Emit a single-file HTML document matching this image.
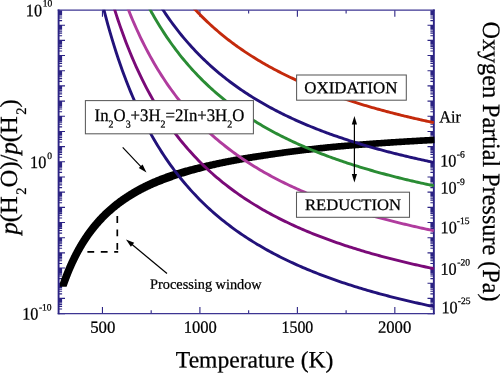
<!DOCTYPE html><html><head><meta charset="utf-8"><title>plot</title><style>html,body{margin:0;padding:0;background:#fff;width:500px;height:373px;overflow:hidden}svg{display:block}</style></head><body><svg width="500" height="373" viewBox="0 0 500 373"><defs><clipPath id="pc"><rect x="58.50" y="9.70" width="376.10" height="303.80"/></clipPath><clipPath id="bc"><rect x="60.00" y="10.20" width="374.60" height="276.50"/></clipPath></defs><rect width="500" height="373" fill="#fff"/><path d="M58.50,313.60L65.00,313.60 M434.00,313.60L427.50,313.60 M58.50,309.03L62.10,309.03 M434.00,309.03L430.40,309.03 M58.50,306.36L62.10,306.36 M434.00,306.36L430.40,306.36 M58.50,304.46L62.10,304.46 M434.00,304.46L430.40,304.46 M58.50,302.99L62.10,302.99 M434.00,302.99L430.40,302.99 M58.50,301.79L62.10,301.79 M434.00,301.79L430.40,301.79 M58.50,300.77L62.10,300.77 M434.00,300.77L430.40,300.77 M58.50,299.89L62.10,299.89 M434.00,299.89L430.40,299.89 M58.50,299.11L62.10,299.11 M434.00,299.11L430.40,299.11 M58.50,298.42L65.00,298.42 M434.00,298.42L427.50,298.42 M58.50,293.85L62.10,293.85 M434.00,293.85L430.40,293.85 M58.50,291.18L62.10,291.18 M434.00,291.18L430.40,291.18 M58.50,289.28L62.10,289.28 M434.00,289.28L430.40,289.28 M58.50,287.81L62.10,287.81 M434.00,287.81L430.40,287.81 M58.50,286.61L62.10,286.61 M434.00,286.61L430.40,286.61 M58.50,285.59L62.10,285.59 M434.00,285.59L430.40,285.59 M58.50,284.71L62.10,284.71 M434.00,284.71L430.40,284.71 M58.50,283.93L62.10,283.93 M434.00,283.93L430.40,283.93 M58.50,283.24L65.00,283.24 M434.00,283.24L427.50,283.24 M58.50,278.67L62.10,278.67 M434.00,278.67L430.40,278.67 M58.50,276.00L62.10,276.00 M434.00,276.00L430.40,276.00 M58.50,274.10L62.10,274.10 M434.00,274.10L430.40,274.10 M58.50,272.63L62.10,272.63 M434.00,272.63L430.40,272.63 M58.50,271.43L62.10,271.43 M434.00,271.43L430.40,271.43 M58.50,270.41L62.10,270.41 M434.00,270.41L430.40,270.41 M58.50,269.53L62.10,269.53 M434.00,269.53L430.40,269.53 M58.50,268.75L62.10,268.75 M434.00,268.75L430.40,268.75 M58.50,268.06L65.00,268.06 M434.00,268.06L427.50,268.06 M58.50,263.49L62.10,263.49 M434.00,263.49L430.40,263.49 M58.50,260.82L62.10,260.82 M434.00,260.82L430.40,260.82 M58.50,258.92L62.10,258.92 M434.00,258.92L430.40,258.92 M58.50,257.45L62.10,257.45 M434.00,257.45L430.40,257.45 M58.50,256.25L62.10,256.25 M434.00,256.25L430.40,256.25 M58.50,255.23L62.10,255.23 M434.00,255.23L430.40,255.23 M58.50,254.35L62.10,254.35 M434.00,254.35L430.40,254.35 M58.50,253.57L62.10,253.57 M434.00,253.57L430.40,253.57 M58.50,252.88L65.00,252.88 M434.00,252.88L427.50,252.88 M58.50,248.31L62.10,248.31 M434.00,248.31L430.40,248.31 M58.50,245.64L62.10,245.64 M434.00,245.64L430.40,245.64 M58.50,243.74L62.10,243.74 M434.00,243.74L430.40,243.74 M58.50,242.27L62.10,242.27 M434.00,242.27L430.40,242.27 M58.50,241.07L62.10,241.07 M434.00,241.07L430.40,241.07 M58.50,240.05L62.10,240.05 M434.00,240.05L430.40,240.05 M58.50,239.17L62.10,239.17 M434.00,239.17L430.40,239.17 M58.50,238.39L62.10,238.39 M434.00,238.39L430.40,238.39 M58.50,237.70L65.00,237.70 M434.00,237.70L427.50,237.70 M58.50,233.13L62.10,233.13 M434.00,233.13L430.40,233.13 M58.50,230.46L62.10,230.46 M434.00,230.46L430.40,230.46 M58.50,228.56L62.10,228.56 M434.00,228.56L430.40,228.56 M58.50,227.09L62.10,227.09 M434.00,227.09L430.40,227.09 M58.50,225.89L62.10,225.89 M434.00,225.89L430.40,225.89 M58.50,224.87L62.10,224.87 M434.00,224.87L430.40,224.87 M58.50,223.99L62.10,223.99 M434.00,223.99L430.40,223.99 M58.50,223.21L62.10,223.21 M434.00,223.21L430.40,223.21 M58.50,222.52L65.00,222.52 M434.00,222.52L427.50,222.52 M58.50,217.95L62.10,217.95 M434.00,217.95L430.40,217.95 M58.50,215.28L62.10,215.28 M434.00,215.28L430.40,215.28 M58.50,213.38L62.10,213.38 M434.00,213.38L430.40,213.38 M58.50,211.91L62.10,211.91 M434.00,211.91L430.40,211.91 M58.50,210.71L62.10,210.71 M434.00,210.71L430.40,210.71 M58.50,209.69L62.10,209.69 M434.00,209.69L430.40,209.69 M58.50,208.81L62.10,208.81 M434.00,208.81L430.40,208.81 M58.50,208.03L62.10,208.03 M434.00,208.03L430.40,208.03 M58.50,207.34L65.00,207.34 M434.00,207.34L427.50,207.34 M58.50,202.77L62.10,202.77 M434.00,202.77L430.40,202.77 M58.50,200.10L62.10,200.10 M434.00,200.10L430.40,200.10 M58.50,198.20L62.10,198.20 M434.00,198.20L430.40,198.20 M58.50,196.73L62.10,196.73 M434.00,196.73L430.40,196.73 M58.50,195.53L62.10,195.53 M434.00,195.53L430.40,195.53 M58.50,194.51L62.10,194.51 M434.00,194.51L430.40,194.51 M58.50,193.63L62.10,193.63 M434.00,193.63L430.40,193.63 M58.50,192.85L62.10,192.85 M434.00,192.85L430.40,192.85 M58.50,192.16L65.00,192.16 M434.00,192.16L427.50,192.16 M58.50,187.59L62.10,187.59 M434.00,187.59L430.40,187.59 M58.50,184.92L62.10,184.92 M434.00,184.92L430.40,184.92 M58.50,183.02L62.10,183.02 M434.00,183.02L430.40,183.02 M58.50,181.55L62.10,181.55 M434.00,181.55L430.40,181.55 M58.50,180.35L62.10,180.35 M434.00,180.35L430.40,180.35 M58.50,179.33L62.10,179.33 M434.00,179.33L430.40,179.33 M58.50,178.45L62.10,178.45 M434.00,178.45L430.40,178.45 M58.50,177.67L62.10,177.67 M434.00,177.67L430.40,177.67 M58.50,176.98L65.00,176.98 M434.00,176.98L427.50,176.98 M58.50,172.41L62.10,172.41 M434.00,172.41L430.40,172.41 M58.50,169.74L62.10,169.74 M434.00,169.74L430.40,169.74 M58.50,167.84L62.10,167.84 M434.00,167.84L430.40,167.84 M58.50,166.37L62.10,166.37 M434.00,166.37L430.40,166.37 M58.50,165.17L62.10,165.17 M434.00,165.17L430.40,165.17 M58.50,164.15L62.10,164.15 M434.00,164.15L430.40,164.15 M58.50,163.27L62.10,163.27 M434.00,163.27L430.40,163.27 M58.50,162.49L62.10,162.49 M434.00,162.49L430.40,162.49 M58.50,161.80L65.00,161.80 M434.00,161.80L427.50,161.80 M58.50,157.23L62.10,157.23 M434.00,157.23L430.40,157.23 M58.50,154.56L62.10,154.56 M434.00,154.56L430.40,154.56 M58.50,152.66L62.10,152.66 M434.00,152.66L430.40,152.66 M58.50,151.19L62.10,151.19 M434.00,151.19L430.40,151.19 M58.50,149.99L62.10,149.99 M434.00,149.99L430.40,149.99 M58.50,148.97L62.10,148.97 M434.00,148.97L430.40,148.97 M58.50,148.09L62.10,148.09 M434.00,148.09L430.40,148.09 M58.50,147.31L62.10,147.31 M434.00,147.31L430.40,147.31 M58.50,146.62L65.00,146.62 M434.00,146.62L427.50,146.62 M58.50,142.05L62.10,142.05 M434.00,142.05L430.40,142.05 M58.50,139.38L62.10,139.38 M434.00,139.38L430.40,139.38 M58.50,137.48L62.10,137.48 M434.00,137.48L430.40,137.48 M58.50,136.01L62.10,136.01 M434.00,136.01L430.40,136.01 M58.50,134.81L62.10,134.81 M434.00,134.81L430.40,134.81 M58.50,133.79L62.10,133.79 M434.00,133.79L430.40,133.79 M58.50,132.91L62.10,132.91 M434.00,132.91L430.40,132.91 M58.50,132.13L62.10,132.13 M434.00,132.13L430.40,132.13 M58.50,131.44L65.00,131.44 M434.00,131.44L427.50,131.44 M58.50,126.87L62.10,126.87 M434.00,126.87L430.40,126.87 M58.50,124.20L62.10,124.20 M434.00,124.20L430.40,124.20 M58.50,122.30L62.10,122.30 M434.00,122.30L430.40,122.30 M58.50,120.83L62.10,120.83 M434.00,120.83L430.40,120.83 M58.50,119.63L62.10,119.63 M434.00,119.63L430.40,119.63 M58.50,118.61L62.10,118.61 M434.00,118.61L430.40,118.61 M58.50,117.73L62.10,117.73 M434.00,117.73L430.40,117.73 M58.50,116.95L62.10,116.95 M434.00,116.95L430.40,116.95 M58.50,116.26L65.00,116.26 M434.00,116.26L427.50,116.26 M58.50,111.69L62.10,111.69 M434.00,111.69L430.40,111.69 M58.50,109.02L62.10,109.02 M434.00,109.02L430.40,109.02 M58.50,107.12L62.10,107.12 M434.00,107.12L430.40,107.12 M58.50,105.65L62.10,105.65 M434.00,105.65L430.40,105.65 M58.50,104.45L62.10,104.45 M434.00,104.45L430.40,104.45 M58.50,103.43L62.10,103.43 M434.00,103.43L430.40,103.43 M58.50,102.55L62.10,102.55 M434.00,102.55L430.40,102.55 M58.50,101.77L62.10,101.77 M434.00,101.77L430.40,101.77 M58.50,101.08L65.00,101.08 M434.00,101.08L427.50,101.08 M58.50,96.51L62.10,96.51 M434.00,96.51L430.40,96.51 M58.50,93.84L62.10,93.84 M434.00,93.84L430.40,93.84 M58.50,91.94L62.10,91.94 M434.00,91.94L430.40,91.94 M58.50,90.47L62.10,90.47 M434.00,90.47L430.40,90.47 M58.50,89.27L62.10,89.27 M434.00,89.27L430.40,89.27 M58.50,88.25L62.10,88.25 M434.00,88.25L430.40,88.25 M58.50,87.37L62.10,87.37 M434.00,87.37L430.40,87.37 M58.50,86.59L62.10,86.59 M434.00,86.59L430.40,86.59 M58.50,85.90L65.00,85.90 M434.00,85.90L427.50,85.90 M58.50,81.33L62.10,81.33 M434.00,81.33L430.40,81.33 M58.50,78.66L62.10,78.66 M434.00,78.66L430.40,78.66 M58.50,76.76L62.10,76.76 M434.00,76.76L430.40,76.76 M58.50,75.29L62.10,75.29 M434.00,75.29L430.40,75.29 M58.50,74.09L62.10,74.09 M434.00,74.09L430.40,74.09 M58.50,73.07L62.10,73.07 M434.00,73.07L430.40,73.07 M58.50,72.19L62.10,72.19 M434.00,72.19L430.40,72.19 M58.50,71.41L62.10,71.41 M434.00,71.41L430.40,71.41 M58.50,70.72L65.00,70.72 M434.00,70.72L427.50,70.72 M58.50,66.15L62.10,66.15 M434.00,66.15L430.40,66.15 M58.50,63.48L62.10,63.48 M434.00,63.48L430.40,63.48 M58.50,61.58L62.10,61.58 M434.00,61.58L430.40,61.58 M58.50,60.11L62.10,60.11 M434.00,60.11L430.40,60.11 M58.50,58.91L62.10,58.91 M434.00,58.91L430.40,58.91 M58.50,57.89L62.10,57.89 M434.00,57.89L430.40,57.89 M58.50,57.01L62.10,57.01 M434.00,57.01L430.40,57.01 M58.50,56.23L62.10,56.23 M434.00,56.23L430.40,56.23 M58.50,55.54L65.00,55.54 M434.00,55.54L427.50,55.54 M58.50,50.97L62.10,50.97 M434.00,50.97L430.40,50.97 M58.50,48.30L62.10,48.30 M434.00,48.30L430.40,48.30 M58.50,46.40L62.10,46.40 M434.00,46.40L430.40,46.40 M58.50,44.93L62.10,44.93 M434.00,44.93L430.40,44.93 M58.50,43.73L62.10,43.73 M434.00,43.73L430.40,43.73 M58.50,42.71L62.10,42.71 M434.00,42.71L430.40,42.71 M58.50,41.83L62.10,41.83 M434.00,41.83L430.40,41.83 M58.50,41.05L62.10,41.05 M434.00,41.05L430.40,41.05 M58.50,40.36L65.00,40.36 M434.00,40.36L427.50,40.36 M58.50,35.79L62.10,35.79 M434.00,35.79L430.40,35.79 M58.50,33.12L62.10,33.12 M434.00,33.12L430.40,33.12 M58.50,31.22L62.10,31.22 M434.00,31.22L430.40,31.22 M58.50,29.75L62.10,29.75 M434.00,29.75L430.40,29.75 M58.50,28.55L62.10,28.55 M434.00,28.55L430.40,28.55 M58.50,27.53L62.10,27.53 M434.00,27.53L430.40,27.53 M58.50,26.65L62.10,26.65 M434.00,26.65L430.40,26.65 M58.50,25.87L62.10,25.87 M434.00,25.87L430.40,25.87 M58.50,25.18L65.00,25.18 M434.00,25.18L427.50,25.18 M58.50,20.61L62.10,20.61 M434.00,20.61L430.40,20.61 M58.50,17.94L62.10,17.94 M434.00,17.94L430.40,17.94 M58.50,16.04L62.10,16.04 M434.00,16.04L430.40,16.04 M58.50,14.57L62.10,14.57 M434.00,14.57L430.40,14.57 M58.50,13.37L62.10,13.37 M434.00,13.37L430.40,13.37 M58.50,12.35L62.10,12.35 M434.00,12.35L430.40,12.35 M58.50,11.47L62.10,11.47 M434.00,11.47L430.40,11.47 M58.50,10.69L62.10,10.69 M434.00,10.69L430.40,10.69 M102.45,313.50L102.45,307.00 M102.45,10.20L102.45,16.70 M151.18,313.50L151.18,310.30 M151.18,10.20L151.18,13.40 M199.91,313.50L199.91,307.00 M199.91,10.20L199.91,16.70 M248.65,313.50L248.65,310.30 M248.65,10.20L248.65,13.40 M297.38,313.50L297.38,307.00 M297.38,10.20L297.38,16.70 M346.11,313.50L346.11,310.30 M346.11,10.20L346.11,13.40 M394.84,313.50L394.84,307.00 M394.84,10.20L394.84,16.70" stroke="#2c2484" stroke-width="1.1" fill="none"/><path d="M57.70,10.20 H434.75 M57.70,313.50 H434.75" stroke="#3d3592" stroke-width="1.25" fill="none"/><path d="M58.60,9.45 V314.25 M433.85,9.45 V314.25" stroke="#2c2484" stroke-width="1.9" fill="none"/><g clip-path="url(#bc)" fill="none" stroke-linejoin="round"><path d="M58.29,287.54 L58.31,287.49 L58.35,287.38 L58.40,287.23 L58.46,287.04 L58.53,286.83 L58.61,286.59 L58.70,286.32 L58.79,286.03 L58.90,285.72 L59.01,285.39 L59.13,285.04 L59.25,284.67 L59.39,284.29 L59.52,283.89 L59.67,283.47 L59.82,283.04 L59.97,282.59 L60.13,282.13 L60.30,281.66 L60.47,281.18 L60.65,280.68 L60.83,280.17 L61.02,279.65 L61.21,279.12 L61.41,278.59 L61.61,278.04 L61.82,277.48 L62.03,276.91 L62.25,276.34 L62.47,275.75 L62.69,275.16 L62.92,274.57 L63.16,273.96 L63.40,273.35 L63.64,272.73 L63.89,272.11 L64.14,271.48 L64.39,270.85 L64.65,270.21 L64.91,269.56 L65.18,268.91 L65.45,268.26 L65.73,267.60 L66.01,266.94 L66.29,266.28 L66.58,265.61 L66.87,264.94 L67.16,264.27 L67.46,263.60 L67.76,262.92 L68.07,262.24 L68.38,261.56 L68.69,260.87 L69.01,260.19 L69.33,259.50 L69.65,258.82 L69.98,258.13 L70.31,257.44 L70.65,256.75 L70.99,256.06 L71.33,255.37 L71.67,254.68 L72.02,253.99 L72.37,253.29 L72.73,252.60 L73.09,251.91 L73.45,251.22 L73.81,250.53 L74.18,249.84 L74.55,249.16 L74.93,248.47 L75.31,247.78 L75.69,247.10 L76.07,246.41 L76.46,245.73 L76.85,245.05 L77.24,244.37 L77.64,243.69 L78.04,243.01 L78.45,242.34 L78.85,241.66 L79.26,240.99 L79.68,240.32 L80.09,239.66 L80.51,238.99 L80.93,238.33 L81.36,237.67 L81.79,237.01 L82.22,236.35 L82.65,235.70 L83.09,235.04 L83.53,234.40 L83.97,233.75 L84.42,233.10 L84.87,232.46 L85.32,231.82 L85.77,231.19 L86.23,230.55 L86.69,229.92 L87.16,229.29 L87.62,228.67 L88.09,228.05 L88.56,227.43 L89.04,226.81 L89.52,226.20 L90.00,225.59 L90.48,224.98 L90.96,224.37 L91.45,223.77 L91.94,223.17 L92.44,222.58 L92.94,221.98 L93.44,221.40 L93.94,220.81 L94.44,220.23 L94.95,219.64 L95.46,219.07 L95.97,218.49 L96.49,217.92 L97.01,217.36 L97.53,216.79 L98.05,216.23 L98.58,215.67 L99.11,215.12 L99.64,214.56 L100.17,214.02 L100.71,213.47 L101.25,212.93 L101.79,212.39 L102.33,211.85 L102.88,211.32 L103.43,210.79 L103.98,210.26 L104.54,209.74 L105.09,209.22 L105.65,208.71 L106.21,208.19 L106.78,207.68 L107.34,207.17 L107.91,206.67 L108.48,206.17 L109.06,205.67 L109.63,205.18 L110.21,204.68 L110.79,204.20 L111.38,203.71 L111.96,203.23 L112.55,202.75 L113.14,202.27 L113.74,201.80 L114.33,201.33 L114.93,200.86 L115.53,200.40 L116.13,199.94 L116.74,199.48 L117.34,199.03 L117.95,198.57 L118.56,198.12 L119.18,197.68 L119.79,197.23 L120.41,196.79 L121.03,196.36 L121.65,195.92 L122.28,195.49 L122.91,195.06 L123.54,194.64 L124.17,194.21 L124.80,193.79 L125.44,193.38 L126.07,192.96 L126.71,192.55 L127.36,192.14 L128.00,191.73 L128.65,191.33 L129.30,190.93 L129.95,190.53 L130.60,190.13 L131.26,189.74 L131.91,189.35 L132.57,188.96 L133.24,188.58 L133.90,188.19 L134.57,187.81 L135.23,187.44 L135.90,187.06 L136.58,186.69 L137.25,186.32 L137.93,185.95 L138.60,185.59 L139.28,185.22 L139.97,184.86 L140.65,184.51 L141.34,184.15 L142.03,183.80 L142.72,183.45 L143.41,183.10 L144.10,182.75 L144.80,182.41 L145.50,182.07 L146.20,181.73 L146.90,181.39 L147.61,181.06 L148.33,180.72 L149.06,180.39 L149.77,180.07 L150.48,179.75 L151.20,179.44 L151.91,179.12 L152.63,178.81 L153.35,178.51 L154.07,178.20 L154.80,177.90 L155.52,177.59 L156.25,177.29 L156.98,177.00 L157.72,176.70 L158.45,176.41 L159.19,176.11 L159.92,175.82 L160.66,175.54 L161.40,175.25 L162.15,174.97 L162.89,174.69 L163.64,174.41 L164.39,174.14 L165.15,173.87 L165.91,173.61 L166.67,173.35 L167.43,173.09 L168.19,172.83 L168.95,172.58 L169.72,172.32 L170.49,172.07 L171.26,171.82 L172.03,171.57 L172.80,171.33 L173.58,171.08 L174.35,170.84 L175.13,170.60 L175.91,170.36 L176.69,170.12 L177.48,169.89 L178.26,169.65 L179.05,169.42 L179.84,169.19 L180.63,168.96 L181.43,168.74 L182.22,168.51 L183.02,168.29 L183.82,168.06 L184.62,167.84 L185.42,167.62 L186.22,167.41 L187.03,167.19 L187.83,166.98 L188.64,166.76 L189.45,166.55 L190.27,166.34 L191.08,166.13 L191.90,165.93 L192.71,165.72 L193.53,165.52 L194.35,165.32 L195.18,165.12 L196.00,164.92 L196.83,164.72 L197.66,164.52 L198.48,164.33 L199.29,164.14 L200.11,163.94 L200.94,163.74 L201.78,163.54 L202.62,163.34 L203.46,163.14 L204.30,162.95 L205.15,162.75 L205.99,162.56 L206.84,162.37 L207.69,162.18 L208.54,161.99 L209.39,161.80 L210.24,161.61 L211.10,161.42 L211.95,161.22 L212.81,161.03 L213.67,160.85 L214.53,160.66 L215.40,160.47 L216.26,160.29 L217.13,160.11 L217.99,159.92 L218.86,159.74 L219.74,159.56 L220.61,159.38 L221.48,159.20 L222.36,159.03 L223.24,158.85 L224.12,158.68 L225.00,158.50 L225.88,158.33 L226.77,158.16 L227.66,157.99 L228.55,157.82 L229.44,157.65 L230.33,157.48 L231.22,157.32 L232.12,157.15 L233.01,156.99 L233.91,156.82 L234.81,156.66 L235.71,156.50 L236.62,156.34 L237.52,156.18 L238.43,156.02 L239.34,155.86 L240.25,155.71 L241.16,155.55 L242.08,155.40 L242.99,155.24 L243.91,155.09 L244.83,154.94 L245.75,154.79 L246.67,154.64 L247.59,154.49 L248.52,154.34 L249.45,154.19 L250.38,154.05 L251.31,153.90 L252.24,153.76 L253.17,153.61 L254.11,153.47 L255.04,153.33 L255.98,153.19 L256.92,153.05 L257.86,152.91 L258.81,152.77 L259.75,152.63 L260.70,152.49 L261.65,152.36 L262.60,152.22 L263.55,152.09 L264.49,151.95 L265.43,151.81 L266.39,151.67 L267.34,151.53 L268.30,151.39 L269.26,151.25 L270.23,151.11 L271.19,150.98 L272.16,150.84 L273.13,150.70 L274.10,150.57 L275.07,150.43 L276.04,150.30 L277.02,150.17 L277.99,150.03 L278.97,149.90 L279.95,149.77 L280.93,149.63 L281.91,149.50 L282.89,149.37 L283.88,149.23 L284.87,149.10 L285.85,148.97 L286.84,148.84 L287.84,148.71 L288.83,148.58 L289.82,148.45 L290.82,148.32 L291.82,148.20 L292.82,148.07 L293.82,147.94 L294.82,147.82 L295.83,147.69 L296.83,147.57 L297.84,147.44 L298.85,147.32 L299.86,147.20 L300.87,147.08 L301.89,146.96 L302.90,146.83 L303.92,146.71 L304.94,146.59 L305.96,146.48 L306.98,146.36 L308.00,146.24 L309.03,146.12 L310.05,146.00 L311.08,145.89 L312.11,145.77 L313.14,145.66 L314.17,145.54 L315.21,145.43 L316.24,145.31 L317.28,145.20 L318.32,145.09 L319.36,144.98 L320.40,144.86 L321.45,144.75 L322.49,144.64 L323.54,144.53 L324.59,144.42 L325.64,144.31 L326.69,144.20 L327.74,144.10 L328.80,143.99 L329.87,143.88 L330.94,143.78 L332.00,143.69 L333.06,143.59 L334.12,143.49 L335.18,143.40 L336.25,143.30 L337.31,143.21 L338.38,143.12 L339.45,143.02 L340.52,142.93 L341.60,142.84 L342.67,142.75 L343.75,142.66 L344.82,142.56 L345.90,142.47 L346.98,142.38 L348.07,142.29 L349.15,142.21 L350.23,142.12 L351.32,142.03 L352.41,141.94 L353.50,141.85 L354.59,141.77 L355.68,141.68 L356.77,141.59 L357.87,141.51 L358.97,141.42 L360.07,141.34 L361.17,141.25 L362.27,141.17 L363.37,141.09 L364.47,141.00 L365.58,140.92 L366.69,140.84 L367.80,140.75 L368.91,140.67 L370.02,140.59 L371.13,140.51 L372.25,140.43 L373.36,140.35 L374.48,140.27 L375.60,140.19 L376.72,140.11 L377.84,140.03 L378.97,139.95 L380.09,139.88 L381.22,139.80 L382.35,139.72 L383.48,139.65 L384.61,139.57 L385.74,139.49 L386.88,139.42 L388.01,139.34 L389.15,139.27 L390.29,139.19 L391.43,139.12 L392.57,139.04 L393.71,138.97 L394.86,138.90 L396.00,138.82 L397.15,138.75 L398.30,138.68 L399.45,138.61 L400.60,138.53 L401.75,138.46 L402.91,138.39 L404.07,138.32 L405.22,138.25 L406.38,138.18 L407.54,138.11 L408.70,138.04 L409.87,137.97 L411.03,137.90 L412.20,137.84 L413.37,137.77 L414.54,137.70 L415.71,137.63 L416.88,137.56 L418.05,137.50 L419.23,137.43 L420.40,137.37 L421.58,137.30 L422.76,137.23 L423.94,137.17 L425.12,137.10 L426.31,137.04 L427.49,136.97 L428.68,136.91 L429.87,136.84 L431.05,136.78 L432.25,136.72 L433.44,136.65 L434.63,136.59 L434.98,143.19 L433.79,143.25 L432.60,143.32 L431.41,143.38 L430.22,143.45 L429.04,143.51 L427.85,143.58 L426.67,143.64 L425.49,143.71 L424.31,143.77 L423.13,143.84 L421.95,143.91 L420.78,143.97 L419.60,144.04 L418.43,144.11 L417.26,144.17 L416.09,144.24 L414.92,144.31 L413.75,144.38 L412.59,144.45 L411.42,144.52 L410.26,144.58 L409.10,144.65 L407.94,144.72 L406.78,144.79 L405.63,144.87 L404.47,144.94 L403.32,145.01 L402.16,145.08 L401.01,145.15 L399.86,145.22 L398.72,145.30 L397.57,145.37 L396.43,145.44 L395.28,145.52 L394.14,145.59 L393.00,145.66 L391.86,145.74 L390.72,145.81 L389.59,145.89 L388.45,145.96 L387.32,146.04 L386.19,146.12 L385.06,146.19 L383.93,146.27 L382.80,146.35 L381.68,146.42 L380.55,146.50 L379.43,146.58 L378.31,146.66 L377.19,146.74 L376.07,146.82 L374.96,146.90 L373.84,146.98 L372.73,147.06 L371.62,147.14 L370.50,147.22 L369.40,147.30 L368.29,147.38 L367.18,147.47 L366.08,147.55 L364.97,147.63 L363.87,147.72 L362.77,147.80 L361.68,147.89 L360.58,147.97 L359.48,148.06 L358.39,148.14 L357.30,148.23 L356.21,148.31 L355.12,148.40 L354.03,148.49 L352.94,148.58 L351.86,148.66 L350.78,148.75 L349.69,148.84 L348.62,148.93 L347.54,149.02 L346.46,149.11 L345.38,149.20 L344.31,149.29 L343.24,149.39 L342.17,149.48 L341.10,149.57 L340.03,149.66 L338.97,149.76 L337.90,149.85 L336.84,149.95 L335.78,150.04 L334.72,150.14 L333.66,150.23 L332.60,150.33 L331.55,150.42 L330.51,150.52 L329.47,150.62 L328.42,150.73 L327.37,150.84 L326.33,150.95 L325.28,151.06 L324.24,151.17 L323.19,151.28 L322.15,151.39 L321.11,151.50 L320.08,151.61 L319.04,151.73 L318.01,151.84 L316.97,151.95 L315.94,152.07 L314.91,152.18 L313.88,152.30 L312.86,152.41 L311.83,152.53 L310.81,152.64 L309.79,152.76 L308.77,152.88 L307.75,153.00 L306.73,153.11 L305.72,153.23 L304.70,153.35 L303.69,153.47 L302.68,153.59 L301.67,153.72 L300.66,153.84 L299.66,153.96 L298.65,154.08 L297.65,154.21 L296.65,154.33 L295.65,154.46 L294.66,154.58 L293.66,154.71 L292.67,154.84 L291.67,154.96 L290.68,155.09 L289.69,155.22 L288.71,155.35 L287.72,155.48 L286.73,155.61 L285.75,155.74 L284.77,155.87 L283.79,156.00 L282.81,156.14 L281.84,156.27 L280.86,156.40 L279.89,156.54 L278.92,156.68 L277.95,156.82 L276.99,156.96 L276.02,157.10 L275.06,157.25 L274.09,157.39 L273.13,157.53 L272.17,157.68 L271.22,157.82 L270.26,157.97 L269.31,158.11 L268.36,158.26 L267.41,158.41 L266.46,158.56 L265.50,158.71 L264.54,158.85 L263.59,158.99 L262.65,159.14 L261.71,159.28 L260.77,159.42 L259.83,159.57 L258.90,159.71 L257.97,159.86 L257.04,160.01 L256.11,160.16 L255.18,160.30 L254.25,160.45 L253.33,160.60 L252.40,160.76 L251.48,160.91 L250.56,161.06 L249.65,161.21 L248.73,161.37 L247.82,161.53 L246.90,161.68 L245.99,161.84 L245.08,162.00 L244.18,162.16 L243.27,162.32 L242.37,162.48 L241.47,162.64 L240.57,162.80 L239.67,162.96 L238.77,163.13 L237.88,163.29 L236.98,163.46 L236.09,163.63 L235.20,163.79 L234.32,163.96 L233.43,164.13 L232.55,164.30 L231.66,164.48 L230.78,164.65 L229.91,164.82 L229.03,165.00 L228.15,165.17 L227.28,165.35 L226.41,165.53 L225.54,165.71 L224.67,165.89 L223.81,166.07 L222.94,166.25 L222.08,166.43 L221.22,166.62 L220.36,166.80 L219.50,166.99 L218.65,167.18 L217.80,167.36 L216.95,167.55 L216.10,167.74 L215.25,167.93 L214.40,168.13 L213.56,168.32 L212.72,168.52 L211.88,168.71 L211.04,168.91 L210.20,169.11 L209.37,169.32 L208.54,169.53 L207.71,169.73 L206.88,169.94 L206.06,170.16 L205.24,170.37 L204.41,170.58 L203.59,170.79 L202.78,171.01 L201.96,171.23 L201.13,171.45 L200.30,171.67 L199.48,171.88 L198.68,172.09 L197.87,172.30 L197.07,172.52 L196.26,172.73 L195.46,172.95 L194.67,173.17 L193.87,173.39 L193.08,173.61 L192.28,173.83 L191.49,174.06 L190.70,174.28 L189.92,174.51 L189.13,174.74 L188.35,174.97 L187.57,175.20 L186.79,175.43 L186.02,175.66 L185.24,175.90 L184.47,176.14 L183.70,176.38 L182.93,176.61 L182.17,176.86 L181.40,177.10 L180.64,177.34 L179.88,177.59 L179.12,177.84 L178.36,178.08 L177.61,178.34 L176.86,178.59 L176.11,178.84 L175.36,179.10 L174.61,179.35 L173.87,179.61 L173.13,179.87 L172.39,180.13 L171.65,180.40 L170.92,180.66 L170.18,180.93 L169.45,181.20 L168.72,181.47 L168.00,181.74 L167.27,182.01 L166.55,182.29 L165.82,182.55 L165.10,182.82 L164.38,183.09 L163.66,183.36 L162.95,183.63 L162.23,183.91 L161.52,184.19 L160.81,184.46 L160.10,184.75 L159.39,185.03 L158.69,185.31 L157.99,185.60 L157.29,185.89 L156.59,186.18 L155.89,186.47 L155.20,186.76 L154.51,187.06 L153.82,187.36 L153.13,187.66 L152.45,187.96 L151.78,188.26 L151.12,188.56 L150.44,188.88 L149.77,189.20 L149.09,189.52 L148.42,189.84 L147.75,190.17 L147.08,190.49 L146.41,190.82 L145.75,191.16 L145.09,191.49 L144.43,191.83 L143.77,192.16 L143.12,192.50 L142.46,192.85 L141.81,193.19 L141.16,193.54 L140.52,193.89 L139.87,194.24 L139.23,194.59 L138.59,194.95 L137.95,195.31 L137.32,195.67 L136.68,196.03 L136.05,196.40 L135.42,196.77 L134.80,197.14 L134.17,197.51 L133.55,197.89 L132.93,198.27 L132.31,198.65 L131.70,199.03 L131.08,199.41 L130.47,199.80 L129.86,200.19 L129.26,200.59 L128.65,200.98 L128.05,201.38 L127.45,201.78 L126.85,202.18 L126.26,202.59 L125.66,203.00 L125.07,203.41 L124.48,203.82 L123.90,204.24 L123.31,204.66 L122.73,205.08 L122.15,205.51 L121.57,205.94 L121.00,206.37 L120.42,206.80 L119.85,207.24 L119.29,207.67 L118.72,208.12 L118.16,208.56 L117.60,209.01 L117.04,209.46 L116.48,209.91 L115.93,210.37 L115.37,210.83 L114.82,211.29 L114.28,211.75 L113.73,212.22 L113.19,212.69 L112.65,213.16 L112.11,213.64 L111.57,214.12 L111.04,214.60 L110.51,215.09 L109.98,215.57 L109.45,216.06 L108.93,216.56 L108.41,217.06 L107.89,217.56 L107.37,218.06 L106.86,218.57 L106.35,219.07 L105.84,219.59 L105.33,220.10 L104.82,220.62 L104.32,221.14 L103.82,221.67 L103.32,222.20 L102.83,222.73 L102.33,223.26 L101.84,223.80 L101.36,224.34 L100.87,224.88 L100.39,225.43 L99.91,225.98 L99.43,226.53 L98.95,227.08 L98.48,227.64 L98.01,228.20 L97.54,228.77 L97.08,229.33 L96.61,229.91 L96.15,230.48 L95.69,231.06 L95.24,231.63 L94.79,232.22 L94.34,232.80 L93.89,233.39 L93.44,233.98 L93.00,234.58 L92.56,235.17 L92.12,235.77 L91.69,236.37 L91.26,236.98 L90.83,237.59 L90.40,238.20 L89.98,238.81 L89.56,239.43 L89.14,240.04 L88.72,240.66 L88.31,241.29 L87.90,241.91 L87.49,242.54 L87.08,243.17 L86.68,243.80 L86.28,244.44 L85.89,245.08 L85.49,245.71 L85.10,246.36 L84.71,247.00 L84.33,247.64 L83.95,248.29 L83.57,248.94 L83.19,249.59 L82.82,250.24 L82.45,250.89 L82.08,251.55 L81.71,252.20 L81.35,252.86 L80.99,253.52 L80.64,254.18 L80.28,254.84 L79.93,255.50 L79.59,256.16 L79.24,256.82 L78.90,257.49 L78.57,258.15 L78.23,258.81 L77.90,259.48 L77.58,260.14 L77.25,260.80 L76.93,261.46 L76.61,262.13 L76.30,262.79 L75.99,263.45 L75.68,264.11 L75.38,264.76 L75.08,265.42 L74.78,266.07 L74.48,266.73 L74.19,267.38 L73.91,268.03 L73.62,268.67 L73.34,269.32 L73.07,269.96 L72.80,270.60 L72.53,271.23 L72.26,271.86 L72.00,272.49 L71.75,273.11 L71.49,273.73 L71.24,274.34 L71.00,274.95 L70.76,275.55 L70.52,276.15 L70.29,276.74 L70.06,277.33 L69.83,277.91 L69.61,278.48 L69.40,279.05 L69.19,279.60 L68.98,280.15 L68.78,280.70 L68.58,281.23 L68.39,281.75 L68.20,282.27 L68.01,282.77 L67.83,283.26 L67.66,283.75 L67.49,284.22 L67.33,284.68 L67.17,285.12 L67.02,285.56 L66.87,285.98 L66.73,286.38 L66.59,286.77 L66.46,287.15 L66.34,287.50 L66.23,287.85 L66.12,288.17 L66.01,288.47 L65.92,288.75 L65.83,289.01 L65.75,289.24 L65.68,289.45 L65.62,289.63 L65.57,289.78 L65.54,289.89 L65.52,289.94Z" fill="#000" stroke="none"/></g><g clip-path="url(#pc)" fill="none" stroke-linejoin="round"><path d="M187.32,0.89 L188.86,2.67 L190.40,4.41 L191.94,6.13 L193.48,7.82 L195.02,9.48 L196.56,11.11 L198.10,12.72 L199.64,14.30 L201.18,15.86 L202.72,17.39 L204.26,18.90 L205.80,20.39 L207.34,21.85 L208.89,23.30 L210.43,24.72 L211.97,26.12 L213.51,27.49 L215.05,28.85 L216.59,30.19 L218.13,31.51 L219.67,32.81 L221.21,34.09 L222.75,35.36 L224.29,36.60 L225.83,37.83 L227.37,39.04 L228.91,40.24 L230.46,41.41 L232.00,42.58 L233.54,43.72 L235.08,44.85 L236.62,45.97 L238.16,47.07 L239.70,48.16 L241.24,49.23 L242.78,50.29 L244.32,51.34 L245.86,52.37 L247.40,53.39 L248.94,54.39 L250.48,55.39 L252.03,56.37 L253.57,57.34 L255.11,58.29 L256.65,59.24 L258.19,60.17 L259.73,61.10 L261.27,62.01 L262.81,62.91 L264.35,63.80 L265.89,64.68 L267.43,65.54 L268.97,66.40 L270.51,67.25 L272.05,68.09 L273.60,68.92 L275.14,69.74 L276.68,70.55 L278.22,71.35 L279.76,72.15 L281.30,72.93 L282.84,73.70 L284.38,74.47 L285.92,75.23 L287.46,75.98 L289.00,76.72 L290.54,77.45 L292.08,78.18 L293.63,78.90 L295.17,79.61 L296.71,80.31 L298.25,81.01 L299.79,81.69 L301.33,82.37 L302.87,83.05 L304.41,83.72 L305.95,84.38 L307.49,85.03 L309.03,85.68 L310.57,86.32 L312.11,86.95 L313.65,87.58 L315.20,88.20 L316.74,88.81 L318.28,89.42 L319.82,90.03 L321.36,90.62 L322.90,91.22 L324.44,91.80 L325.98,92.38 L327.52,92.96 L329.06,93.53 L330.60,94.09 L332.14,94.65 L333.68,95.20 L335.22,95.75 L336.77,96.29 L338.31,96.83 L339.85,97.36 L341.39,97.89 L342.93,98.41 L344.47,98.93 L346.01,99.45 L347.55,99.96 L349.09,100.46 L350.63,100.96 L352.17,101.46 L353.71,101.95 L355.25,102.44 L356.79,102.92 L358.34,103.40 L359.88,103.87 L361.42,104.34 L362.96,104.81 L364.50,105.27 L366.04,105.73 L367.58,106.18 L369.12,106.63 L370.66,107.08 L372.20,107.52 L373.74,107.96 L375.28,108.40 L376.82,108.83 L378.36,109.26 L379.91,109.68 L381.45,110.11 L382.99,110.52 L384.53,110.94 L386.07,111.35 L387.61,111.76 L389.15,112.16 L390.69,112.56 L392.23,112.96 L393.77,113.36 L395.31,113.75 L396.85,114.14 L398.39,114.52 L399.94,114.91 L401.48,115.29 L403.02,115.66 L404.56,116.04 L406.10,116.41 L407.64,116.78 L409.18,117.14 L410.72,117.51 L412.26,117.87 L413.80,118.22 L415.34,118.58 L416.88,118.93 L418.42,119.28 L419.96,119.63 L421.51,119.97 L423.05,120.31 L424.59,120.65 L426.13,120.99 L427.67,121.32 L429.21,121.65 L430.75,121.98 L432.29,122.31 L433.83,122.64" stroke="#c42a0c" stroke-width="2.90"/><path d="M157.35,0.89 L159.08,3.70 L160.81,6.45 L162.54,9.14 L164.26,11.76 L165.99,14.34 L167.72,16.85 L169.45,19.32 L171.18,21.73 L172.90,24.09 L174.63,26.41 L176.36,28.68 L178.09,30.90 L179.82,33.08 L181.54,35.22 L183.27,37.31 L185.00,39.37 L186.73,41.39 L188.46,43.36 L190.18,45.31 L191.91,47.21 L193.64,49.08 L195.37,50.92 L197.10,52.72 L198.82,54.49 L200.55,56.23 L202.28,57.94 L204.01,59.62 L205.74,61.27 L207.46,62.90 L209.19,64.49 L210.92,66.06 L212.65,67.60 L214.38,69.12 L216.10,70.61 L217.83,72.08 L219.56,73.52 L221.29,74.94 L223.02,76.34 L224.74,77.72 L226.47,79.07 L228.20,80.41 L229.93,81.72 L231.66,83.02 L233.38,84.29 L235.11,85.54 L236.84,86.78 L238.57,88.00 L240.30,89.20 L242.02,90.38 L243.75,91.55 L245.48,92.70 L247.21,93.83 L248.94,94.94 L250.66,96.04 L252.39,97.13 L254.12,98.20 L255.85,99.26 L257.58,100.30 L259.30,101.32 L261.03,102.34 L262.76,103.34 L264.49,104.32 L266.22,105.29 L267.94,106.26 L269.67,107.20 L271.40,108.14 L273.13,109.06 L274.86,109.97 L276.58,110.87 L278.31,111.76 L280.04,112.64 L281.77,113.51 L283.50,114.36 L285.22,115.21 L286.95,116.04 L288.68,116.87 L290.41,117.68 L292.14,118.48 L293.86,119.28 L295.59,120.07 L297.32,120.84 L299.05,121.61 L300.78,122.37 L302.50,123.12 L304.23,123.86 L305.96,124.59 L307.69,125.31 L309.42,126.03 L311.14,126.74 L312.87,127.44 L314.60,128.13 L316.33,128.81 L318.06,129.49 L319.78,130.16 L321.51,130.82 L323.24,131.48 L324.97,132.12 L326.70,132.77 L328.42,133.40 L330.15,134.03 L331.88,134.65 L333.61,135.26 L335.34,135.87 L337.06,136.47 L338.79,137.06 L340.52,137.65 L342.25,138.24 L343.98,138.81 L345.70,139.38 L347.43,139.95 L349.16,140.51 L350.89,141.06 L352.62,141.61 L354.34,142.16 L356.07,142.69 L357.80,143.23 L359.53,143.75 L361.26,144.27 L362.98,144.79 L364.71,145.30 L366.44,145.81 L368.17,146.31 L369.90,146.81 L371.62,147.30 L373.35,147.79 L375.08,148.28 L376.81,148.76 L378.54,149.23 L380.26,149.70 L381.99,150.17 L383.72,150.63 L385.45,151.09 L387.18,151.54 L388.90,151.99 L390.63,152.44 L392.36,152.88 L394.09,153.32 L395.82,153.75 L397.54,154.18 L399.27,154.61 L401.00,155.03 L402.73,155.45 L404.46,155.86 L406.18,156.27 L407.91,156.68 L409.64,157.09 L411.37,157.49 L413.10,157.88 L414.82,158.28 L416.55,158.67 L418.28,159.06 L420.01,159.44 L421.74,159.82 L423.46,160.20 L425.19,160.58 L426.92,160.95 L428.65,161.32 L430.38,161.68 L432.10,162.05 L433.83,162.41" stroke="#22127a" stroke-width="2.90"/><path d="M145.51,0.89 L147.31,4.37 L149.11,7.77 L150.92,11.08 L152.72,14.31 L154.52,17.46 L156.32,20.54 L158.12,23.54 L159.93,26.48 L161.73,29.35 L163.53,32.15 L165.33,34.89 L167.13,37.57 L168.94,40.19 L170.74,42.75 L172.54,45.26 L174.34,47.71 L176.14,50.11 L177.95,52.47 L179.75,54.77 L181.55,57.03 L183.35,59.24 L185.15,61.40 L186.96,63.53 L188.76,65.61 L190.56,67.65 L192.36,69.66 L194.16,71.62 L195.97,73.55 L197.77,75.44 L199.57,77.30 L201.37,79.12 L203.17,80.91 L204.98,82.66 L206.78,84.39 L208.58,86.08 L210.38,87.75 L212.18,89.39 L213.99,90.99 L215.79,92.58 L217.59,94.13 L219.39,95.66 L221.19,97.16 L223.00,98.64 L224.80,100.09 L226.60,101.52 L228.40,102.93 L230.20,104.31 L232.01,105.67 L233.81,107.01 L235.61,108.33 L237.41,109.63 L239.21,110.91 L241.02,112.17 L242.82,113.41 L244.62,114.63 L246.42,115.84 L248.22,117.02 L250.03,118.19 L251.83,119.34 L253.63,120.48 L255.43,121.59 L257.23,122.70 L259.04,123.78 L260.84,124.85 L262.64,125.91 L264.44,126.95 L266.24,127.98 L268.05,128.99 L269.85,129.99 L271.65,130.98 L273.45,131.95 L275.25,132.91 L277.06,133.86 L278.86,134.79 L280.66,135.72 L282.46,136.63 L284.26,137.52 L286.07,138.41 L287.87,139.29 L289.67,140.15 L291.47,141.01 L293.27,141.85 L295.08,142.68 L296.88,143.50 L298.68,144.32 L300.48,145.12 L302.28,145.91 L304.09,146.69 L305.89,147.47 L307.69,148.23 L309.49,148.99 L311.29,149.73 L313.10,150.47 L314.90,151.20 L316.70,151.92 L318.50,152.64 L320.30,153.34 L322.11,154.04 L323.91,154.72 L325.71,155.41 L327.51,156.08 L329.31,156.74 L331.12,157.40 L332.92,158.05 L334.72,158.70 L336.52,159.34 L338.32,159.97 L340.13,160.59 L341.93,161.21 L343.73,161.82 L345.53,162.42 L347.33,163.02 L349.14,163.61 L350.94,164.19 L352.74,164.77 L354.54,165.34 L356.34,165.91 L358.15,166.47 L359.95,167.03 L361.75,167.58 L363.55,168.12 L365.35,168.66 L367.16,169.19 L368.96,169.72 L370.76,170.25 L372.56,170.76 L374.36,171.28 L376.17,171.78 L377.97,172.29 L379.77,172.79 L381.57,173.28 L383.37,173.77 L385.18,174.25 L386.98,174.73 L388.78,175.21 L390.58,175.68 L392.38,176.14 L394.19,176.61 L395.99,177.06 L397.79,177.52 L399.59,177.97 L401.39,178.41 L403.20,178.85 L405.00,179.29 L406.80,179.72 L408.60,180.15 L410.40,180.58 L412.21,181.00 L414.01,181.42 L415.81,181.83 L417.61,182.24 L419.41,182.65 L421.22,183.05 L423.02,183.45 L424.82,183.85 L426.62,184.24 L428.42,184.63 L430.23,185.02 L432.03,185.40 L433.83,185.78" stroke="#2a8c34" stroke-width="2.90"/><path d="M124.97,0.89 L126.90,5.94 L128.84,10.84 L130.77,15.58 L132.70,20.19 L134.63,24.65 L136.56,28.98 L138.49,33.19 L140.42,37.28 L142.35,41.25 L144.28,45.12 L146.21,48.87 L148.14,52.53 L150.07,56.09 L152.00,59.55 L153.93,62.93 L155.86,66.22 L157.79,69.42 L159.72,72.55 L161.65,75.60 L163.58,78.57 L165.51,81.48 L167.44,84.31 L169.37,87.08 L171.30,89.78 L173.23,92.42 L175.16,95.00 L177.09,97.53 L179.02,100.00 L180.95,102.41 L182.88,104.77 L184.82,107.08 L186.75,109.34 L188.68,111.56 L190.61,113.72 L192.54,115.85 L194.47,117.93 L196.40,119.96 L198.33,121.96 L200.26,123.92 L202.19,125.84 L204.12,127.72 L206.05,129.57 L207.98,131.38 L209.91,133.15 L211.84,134.90 L213.77,136.61 L215.70,138.29 L217.63,139.94 L219.56,141.56 L221.49,143.15 L223.42,144.71 L225.35,146.25 L227.28,147.76 L229.21,149.24 L231.14,150.70 L233.07,152.13 L235.00,153.54 L236.93,154.92 L238.87,156.29 L240.80,157.63 L242.73,158.95 L244.66,160.24 L246.59,161.52 L248.52,162.78 L250.45,164.01 L252.38,165.23 L254.31,166.43 L256.24,167.61 L258.17,168.77 L260.10,169.91 L262.03,171.04 L263.96,172.15 L265.89,173.25 L267.82,174.32 L269.75,175.39 L271.68,176.43 L273.61,177.46 L275.54,178.48 L277.47,179.48 L279.40,180.47 L281.33,181.45 L283.26,182.41 L285.19,183.36 L287.12,184.29 L289.05,185.21 L290.98,186.12 L292.92,187.02 L294.85,187.91 L296.78,188.78 L298.71,189.64 L300.64,190.49 L302.57,191.33 L304.50,192.16 L306.43,192.98 L308.36,193.79 L310.29,194.59 L312.22,195.38 L314.15,196.15 L316.08,196.92 L318.01,197.68 L319.94,198.43 L321.87,199.17 L323.80,199.90 L325.73,200.63 L327.66,201.34 L329.59,202.05 L331.52,202.74 L333.45,203.43 L335.38,204.11 L337.31,204.79 L339.24,205.45 L341.17,206.11 L343.10,206.76 L345.03,207.40 L346.97,208.04 L348.90,208.67 L350.83,209.29 L352.76,209.90 L354.69,210.51 L356.62,211.11 L358.55,211.71 L360.48,212.29 L362.41,212.88 L364.34,213.45 L366.27,214.02 L368.20,214.58 L370.13,215.14 L372.06,215.69 L373.99,216.24 L375.92,216.78 L377.85,217.31 L379.78,217.84 L381.71,218.36 L383.64,218.88 L385.57,219.40 L387.50,219.90 L389.43,220.41 L391.36,220.90 L393.29,221.40 L395.22,221.88 L397.15,222.37 L399.08,222.85 L401.01,223.32 L402.95,223.79 L404.88,224.25 L406.81,224.71 L408.74,225.17 L410.67,225.62 L412.60,226.07 L414.53,226.51 L416.46,226.95 L418.39,227.38 L420.32,227.81 L422.25,228.24 L424.18,228.66 L426.11,229.08 L428.04,229.49 L429.97,229.91 L431.90,230.31 L433.83,230.72" stroke="#b03c9e" stroke-width="2.90"/><path d="M111.97,0.89 L113.98,7.48 L116.00,13.82 L118.01,19.94 L120.02,25.85 L122.03,31.55 L124.04,37.06 L126.05,42.39 L128.07,47.54 L130.08,52.53 L132.09,57.36 L134.10,62.04 L136.11,66.57 L138.12,70.97 L140.14,75.24 L142.15,79.38 L144.16,83.40 L146.17,87.31 L148.18,91.11 L150.19,94.80 L152.20,98.39 L154.22,101.89 L156.23,105.29 L158.24,108.60 L160.25,111.83 L162.26,114.98 L164.27,118.04 L166.29,121.03 L168.30,123.94 L170.31,126.79 L172.32,129.56 L174.33,132.27 L176.34,134.92 L178.36,137.50 L180.37,140.03 L182.38,142.50 L184.39,144.91 L186.40,147.27 L188.41,149.58 L190.43,151.83 L192.44,154.04 L194.45,156.21 L196.46,158.32 L198.47,160.39 L200.48,162.42 L202.50,164.41 L204.51,166.36 L206.52,168.27 L208.53,170.14 L210.54,171.98 L212.55,173.78 L214.56,175.54 L216.58,177.28 L218.59,178.97 L220.60,180.64 L222.61,182.28 L224.62,183.88 L226.63,185.46 L228.65,187.01 L230.66,188.53 L232.67,190.03 L234.68,191.49 L236.69,192.94 L238.70,194.35 L240.72,195.75 L242.73,197.12 L244.74,198.47 L246.75,199.79 L248.76,201.09 L250.77,202.37 L252.79,203.64 L254.80,204.88 L256.81,206.10 L258.82,207.30 L260.83,208.48 L262.84,209.64 L264.86,210.79 L266.87,211.92 L268.88,213.03 L270.89,214.12 L272.90,215.20 L274.91,216.26 L276.93,217.31 L278.94,218.34 L280.95,219.36 L282.96,220.36 L284.97,221.34 L286.98,222.32 L288.99,223.27 L291.01,224.22 L293.02,225.15 L295.03,226.07 L297.04,226.98 L299.05,227.87 L301.06,228.75 L303.08,229.62 L305.09,230.48 L307.10,231.33 L309.11,232.16 L311.12,232.99 L313.13,233.80 L315.15,234.61 L317.16,235.40 L319.17,236.18 L321.18,236.96 L323.19,237.72 L325.20,238.47 L327.22,239.22 L329.23,239.95 L331.24,240.68 L333.25,241.39 L335.26,242.10 L337.27,242.80 L339.29,243.49 L341.30,244.18 L343.31,244.85 L345.32,245.52 L347.33,246.18 L349.34,246.83 L351.35,247.47 L353.37,248.11 L355.38,248.74 L357.39,249.36 L359.40,249.97 L361.41,250.58 L363.42,251.18 L365.44,251.78 L367.45,252.37 L369.46,252.95 L371.47,253.52 L373.48,254.09 L375.49,254.65 L377.51,255.21 L379.52,255.76 L381.53,256.30 L383.54,256.84 L385.55,257.38 L387.56,257.90 L389.58,258.42 L391.59,258.94 L393.60,259.45 L395.61,259.96 L397.62,260.46 L399.63,260.95 L401.65,261.44 L403.66,261.93 L405.67,262.41 L407.68,262.89 L409.69,263.36 L411.70,263.82 L413.71,264.29 L415.73,264.74 L417.74,265.20 L419.75,265.65 L421.76,266.09 L423.77,266.53 L425.78,266.97 L427.80,267.40 L429.81,267.82 L431.82,268.25 L433.83,268.67" stroke="#7a0a78" stroke-width="2.90"/><path d="M101.69,0.89 L103.76,9.19 L105.84,17.14 L107.91,24.78 L109.99,32.11 L112.07,39.15 L114.14,45.93 L116.22,52.46 L118.29,58.75 L120.37,64.81 L122.45,70.65 L124.52,76.30 L126.60,81.75 L128.67,87.02 L130.75,92.11 L132.83,97.04 L134.90,101.81 L136.98,106.43 L139.05,110.91 L141.13,115.25 L143.20,119.46 L145.28,123.55 L147.36,127.51 L149.43,131.37 L151.51,135.11 L153.58,138.75 L155.66,142.29 L157.74,145.73 L159.81,149.08 L161.89,152.35 L163.96,155.52 L166.04,158.62 L168.12,161.63 L170.19,164.57 L172.27,167.44 L174.34,170.24 L176.42,172.97 L178.50,175.63 L180.57,178.23 L182.65,180.77 L184.72,183.25 L186.80,185.68 L188.87,188.05 L190.95,190.37 L193.03,192.63 L195.10,194.85 L197.18,197.02 L199.25,199.14 L201.33,201.22 L203.41,203.25 L205.48,205.24 L207.56,207.19 L209.63,209.10 L211.71,210.98 L213.79,212.81 L215.86,214.61 L217.94,216.38 L220.01,218.11 L222.09,219.81 L224.16,221.47 L226.24,223.10 L228.32,224.71 L230.39,226.28 L232.47,227.83 L234.54,229.35 L236.62,230.84 L238.70,232.30 L240.77,233.74 L242.85,235.15 L244.92,236.54 L247.00,237.90 L249.08,239.24 L251.15,240.56 L253.23,241.86 L255.30,243.14 L257.38,244.39 L259.46,245.62 L261.53,246.84 L263.61,248.03 L265.68,249.21 L267.76,250.36 L269.83,251.50 L271.91,252.62 L273.99,253.73 L276.06,254.81 L278.14,255.88 L280.21,256.94 L282.29,257.98 L284.37,259.00 L286.44,260.01 L288.52,261.00 L290.59,261.98 L292.67,262.94 L294.75,263.89 L296.82,264.83 L298.90,265.75 L300.97,266.66 L303.05,267.56 L305.13,268.45 L307.20,269.32 L309.28,270.18 L311.35,271.03 L313.43,271.87 L315.50,272.70 L317.58,273.52 L319.66,274.32 L321.73,275.12 L323.81,275.90 L325.88,276.68 L327.96,277.44 L330.04,278.19 L332.11,278.94 L334.19,279.68 L336.26,280.40 L338.34,281.12 L340.42,281.83 L342.49,282.53 L344.57,283.22 L346.64,283.90 L348.72,284.58 L350.79,285.24 L352.87,285.90 L354.95,286.55 L357.02,287.20 L359.10,287.83 L361.17,288.46 L363.25,289.08 L365.33,289.70 L367.40,290.30 L369.48,290.90 L371.55,291.50 L373.63,292.08 L375.71,292.66 L377.78,293.23 L379.86,293.80 L381.93,294.36 L384.01,294.92 L386.09,295.47 L388.16,296.01 L390.24,296.55 L392.31,297.08 L394.39,297.60 L396.46,298.12 L398.54,298.64 L400.62,299.14 L402.69,299.65 L404.77,300.15 L406.84,300.64 L408.92,301.13 L411.00,301.61 L413.07,302.09 L415.15,302.56 L417.22,303.03 L419.30,303.50 L421.38,303.95 L423.45,304.41 L425.53,304.86 L427.60,305.31 L429.68,305.75 L431.76,306.18 L433.83,306.62" stroke="#22127a" stroke-width="2.90"/></g><path d="M117.3,216.1 V252.5 M87.4,251.8 H118.2" fill="none" stroke="#000" stroke-width="1.7" stroke-dasharray="6.8,6.6"/><path d="M122.70,147.30 L141.35,167.05" stroke="#000" stroke-width="1.20"/><path d="M146.50,172.50 L138.77,168.11 L142.55,164.54 Z" fill="#000"/><path d="M167.00,273.50 L131.77,244.20" stroke="#000" stroke-width="1.20"/><path d="M126.00,239.40 L134.20,242.84 L130.87,246.83 Z" fill="#000"/><path d="M354.40,150.00 L354.40,123.40" stroke="#000" stroke-width="1.20"/><path d="M354.40,115.90 L357.00,124.40 L351.80,124.40 Z" fill="#000"/><path d="M354.40,150.00 L354.40,175.00" stroke="#000" stroke-width="1.20"/><path d="M354.40,182.50 L351.80,174.00 L357.00,174.00 Z" fill="#000"/><rect x="85.40" y="100.60" width="168.00" height="33.20" fill="#fff" stroke="#5a5a5a" stroke-width="1.05"/><rect x="296.60" y="75.00" width="109.70" height="25.20" fill="#fff" stroke="#5a5a5a" stroke-width="1.05"/><rect x="296.50" y="192.20" width="113.00" height="25.10" fill="#fff" stroke="#5a5a5a" stroke-width="1.05"/><g font-family="'Liberation Serif','Times New Roman',serif" fill="#000" stroke="#000" stroke-width="0.25" transform="translate(250,186) skewY(0.03) translate(-250,-186)"><g transform="translate(94.6,121.0) scale(0.975,1.03)"><text x="0.00" y="0.00" font-size="17.2">In<tspan font-size="10.2" dy="6.4">2</tspan><tspan dy="-6.4">O</tspan><tspan font-size="10.2" dy="6.4">3</tspan><tspan dy="-6.4">+3H</tspan><tspan font-size="10.2" dy="6.4">2</tspan><tspan dy="-6.4">=2In+3H</tspan><tspan font-size="10.2" dy="6.4">2</tspan><tspan dy="-6.4">O</tspan></text></g><text transform="translate(304.22,93.13) scale(1.0181,1)" font-size="16.65">OXIDATION</text><text transform="translate(305.00,209.94) scale(1.0355,1)" font-size="16.06">REDUCTION</text><text x="150.1" y="288.9" font-size="14.3">Processing window</text><text transform="translate(90.13,332.73) scale(0.9859,1)" font-size="17.04">500</text><text transform="translate(183.65,332.73) scale(0.9569,1)" font-size="17.33">1000</text><text transform="translate(281.51,332.73) scale(0.9248,1)" font-size="17.19">1500</text><text transform="translate(377.95,332.73) scale(0.9628,1)" font-size="17.33">2000</text><text transform="translate(25.83,16.46) scale(0.9300,1)" font-size="17.45">10</text><text transform="translate(42.83,6.60) scale(0.9800,1)" font-size="9.75">10</text><text transform="translate(30.03,168.01) scale(0.9300,1)" font-size="17.45">10</text><text transform="translate(47.16,159.14) scale(0.9800,1)" font-size="9.75">0</text><text transform="translate(22.23,319.71) scale(0.9300,1)" font-size="17.45">10</text><text transform="translate(38.88,310.69) scale(0.9800,1)" font-size="9.75">-10</text><text transform="translate(440.18,166.36) scale(0.9300,1)" font-size="17.45">10</text><text transform="translate(456.74,157.43) scale(0.9800,1)" font-size="9.75">-6</text><text transform="translate(440.38,193.46) scale(0.9300,1)" font-size="17.45">10</text><text transform="translate(456.83,184.83) scale(0.9800,1)" font-size="9.75">-9</text><text transform="translate(440.53,233.11) scale(0.9300,1)" font-size="17.45">10</text><text transform="translate(456.80,223.97) scale(0.9800,1)" font-size="9.75">-15</text><text transform="translate(440.38,274.66) scale(0.9300,1)" font-size="17.45">10</text><text transform="translate(457.33,265.49) scale(0.9800,1)" font-size="9.75">-20</text><text transform="translate(441.38,313.11) scale(0.9300,1)" font-size="17.45">10</text><text transform="translate(457.85,303.83) scale(0.9800,1)" font-size="9.75">-25</text><text transform="translate(439.14,122.40) scale(0.9457,1)" font-size="17.21">Air</text><text x="175.89" y="367.6" font-size="23.6">Temperature (K)</text><text transform="translate(17.40,167.00) rotate(-90)" font-size="24.6" text-anchor="middle"><tspan font-style="italic">p</tspan>(H<tspan font-size="14.5" dx="1.6" dy="9.0">2</tspan><tspan dy="-9.0">O)/</tspan><tspan font-style="italic">p</tspan>(H<tspan font-size="14.5" dx="1.6" dy="9.0">2</tspan><tspan dy="-9.0">)</tspan></text><text transform="translate(482.90,161.40) rotate(90) scale(0.9680,1)" font-size="25.0" text-anchor="middle">Oxygen Partial Pressure (Pa)</text></g></svg></body></html>
